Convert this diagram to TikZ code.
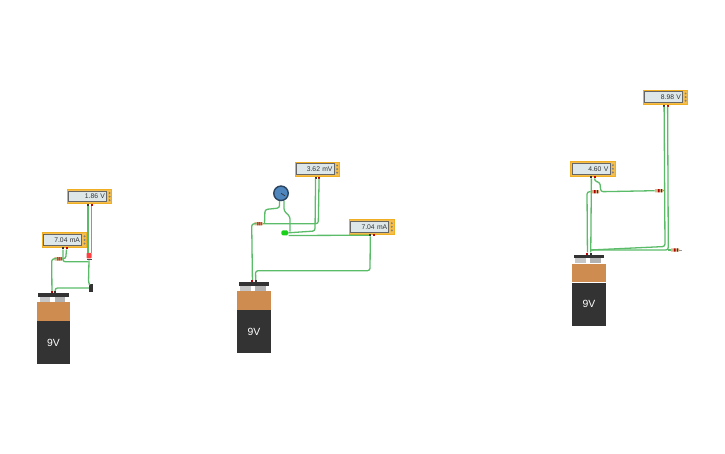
\documentclass[tikz,border=0pt]{standalone}
\usepackage{fontspec}
\setmainfont{Liberation Sans}
\definecolor{wire}{HTML}{5ABB68}
\definecolor{frame}{HTML}{F0AE22}
\definecolor{screen}{HTML}{DDE7EA}
\definecolor{tan}{HTML}{D8B68C}
\definecolor{cell}{HTML}{CE8C50}
\definecolor{dark}{HTML}{333333}
\definecolor{knob}{HTML}{4F86BE}
\definecolor{knobrim}{HTML}{2B4460}
\tikzset{
  meter/.style={draw=frame, fill=frame!80, line width=.8pt, minimum width=44.4pt, minimum height=14.4pt, inner sep=0pt},
  lcd/.style={draw=black!60, fill=screen, line width=1pt, minimum width=38pt, minimum height=10.6pt, inner sep=0pt, font=\fontsize{6.8}{7}\selectfont, text=black!80, align=right, text width=34.6pt},
  dot/.style={circle, fill=black!50, inner sep=0pt, minimum size=2.2pt},
  pinb/.style={fill=black!80, inner sep=0pt, minimum size=2pt},
  pinr/.style={fill=red!75!black, inner sep=0pt, minimum size=2pt},
  cable/.style={wire, line width=1.3pt, rounded corners=2.5pt},
  resistor/.style={fill=tan, inner sep=0pt, minimum width=8.5pt, minimum height=3.4pt, rounded corners=.6pt, path picture={
      \fill[red!70!black] ([xshift=-1.2pt,yshift=-2pt]path picture bounding box.center) rectangle ++(1pt,4pt);
      \fill[black!80] ([xshift=.4pt,yshift=-2pt]path picture bounding box.center) rectangle ++(.8pt,4pt);
      \fill[red!70!black] ([xshift=2pt,yshift=-2pt]path picture bounding box.center) rectangle ++(1pt,4pt);}},
}
\begin{document}
\begin{tikzpicture}[x=1pt,y=-1pt]
\useasboundingbox (0,0) rectangle (725,453);
% meters
\foreach \n/\x/\y/\t in {va/67/189/1.86 V, aa/42/232.3/7.04 mA, vb/294.5/161.5/3.62 mV, ab/349.2/219.2/7.04 mA, vc/570.3/161.2/4.60 V, vd/643/89.5/8.98 V}{
  \node[meter, anchor=north west] (\n) at (\x,\y) {};
  \node[lcd, anchor=west] (\n s) at ([xshift=1.2pt]\n.west) {\t};
  \foreach \k in {-3.6,0,3.6}
    \node[dot] at ([xshift=-2.6pt,yshift=\k pt]\n.east) {};
  \node[pinb] (\n b) at ([xshift=-1.5pt,yshift=-.8pt]\n.south) {};
  \node[pinr] (\n r) at ([xshift=2pt,yshift=-.8pt]\n.south) {};
}
% batteries
\foreach \n/\x/\y in {ca/36.7/302, cb/237.2/291, cc/572.2/263.5}{
  \node[fill=cell, anchor=north west, inner sep=0pt, minimum width=33.3pt, minimum height=18.7pt] (\n o) at (\x,\y) {};
  \node[fill=dark, anchor=north, inner sep=0pt, minimum width=33.3pt, minimum height=43pt, text=white, font=\fontsize{10.4}{12}\selectfont] (\n d) at (\n o.south) {9V};
  \node[fill=black!22, anchor=south, inner sep=0pt, minimum width=10.6pt, minimum height=5.5pt] (\n l) at ([xshift=-8.4pt]\n o.north) {};
  \node[fill=black!30, anchor=south, inner sep=0pt, minimum width=10.6pt, minimum height=5.5pt] (\n m) at ([xshift=6.4pt]\n o.north) {};
  \node[fill=black!80, anchor=south, inner sep=0pt, minimum width=30.4pt, minimum height=3.4pt] (\n t) at ([yshift=5.2pt]\n o.north) {};
  \node[pinr] (\n r) at ([xshift=-1.6pt,yshift=1pt]\n t.north) {};
  \node[pinb] (\n b) at ([xshift=1.7pt,yshift=1pt]\n t.north) {};
}
% parts of the first circuit
\node[resistor] (ra) at (58.5,258.8) {};
\node[fill=red!75, rounded corners=.8pt, inner sep=0pt, minimum width=5pt, minimum height=5.6pt] (la) at (89,255.6) {};
\node[fill=black!70, inner sep=0pt, minimum width=5pt, minimum height=1.6pt] (lb) at (89,259.4) {};
\node[fill=black!80, inner sep=0pt, minimum width=3.6pt, minimum height=8pt] (sw) at (91,288) {};
\coordinate (ja) at (88.3,261.7);
% parts of the second circuit
\node[resistor] (rb) at (258.5,223.7) {};
\node[circle, fill=knob, draw=knobrim, line width=1.4pt, minimum size=14.5pt, inner sep=0pt] (pot) at (281,193.3) {};
\draw[black!80, line width=.7pt] (pot.center) -- ++(4,2.5);
\node[fill=green!80!black!90, rounded corners=1.5pt, inner sep=0pt, minimum width=7pt, minimum height=5pt] (lc) at (284.8,232.8) {};
\coordinate (pl) at (279.5,201);
\coordinate (pr) at (284,201);
\coordinate (jb) at (264.5,223.7);
\coordinate (jc) at (290,231.5);
% parts of the third circuit
\node[resistor] (rc) at (595,191.7) {};
\node[resistor] (rd) at (659,190.7) {};
\node[resistor] (re) at (675,250) {};
\coordinate (rend) at (681.7,250);
\coordinate (jd) at (590.5,250);
\coordinate (je) at (668.3,250);
\coordinate (jf) at (665,190.7);
% wires of the first circuit
\draw[cable] (ra.west) -- (51.7,258.8) -- (car);
\draw[cable] (aab) -- (ra.east);
\draw[cable] (aar) -- (65.7,258.8) -- (ra.east);
\draw[cable] (ra.east) -- (62.7,261.7) -- (ja);
\draw[cable] (vab) -- (la.north -| vab);
\draw[cable] (var) -- (la.north -| var);
\draw[cable] (lb.south) -- (88.5,283) -- (sw.north west);
\draw[cable] (sw.west) -- (55,288) -- (cab);
% wires of the second circuit
\draw[cable] (rb.west) -- (251.7,223.7) -- (cbr);
\draw[cable] (rb.east) -- (318.3,223.7) -- (vbr);
\draw[cable] (pl) -- (279.5,208) -- (265,209.5) -- (jb);
\draw[cable] (pr) -- (284,211) -- (290,216.5) -- (jc);
\draw[cable] (vbb) -- (315,231) -- (lc.east);
\draw[cable] (lc.south east) -- (abb);
\draw[cable] (abb) -- (370,270.7) -- (255.5,270.7) -- (cbb);
% wires of the third circuit
\draw[cable] (rc.west) -- (587,191.7) -- (ccr);
\draw[cable] (vcb) -- (ccb);
\draw[cable] (vcr) -- (594.3,181) -- (600,182.5) -- (600.7,191.7) -- (rd.west);
\draw[cable] (vdb) -- (665,246.5) -- (jd);
\draw[cable] (vdr) -- (je) -- (jd);
\draw[cable] (rd.east) -- (jf);
\draw[cable] (je) -- (re.west);
\draw[black!40, line width=.6pt] (re.east) -- (rend);
\end{tikzpicture}
\end{document}
